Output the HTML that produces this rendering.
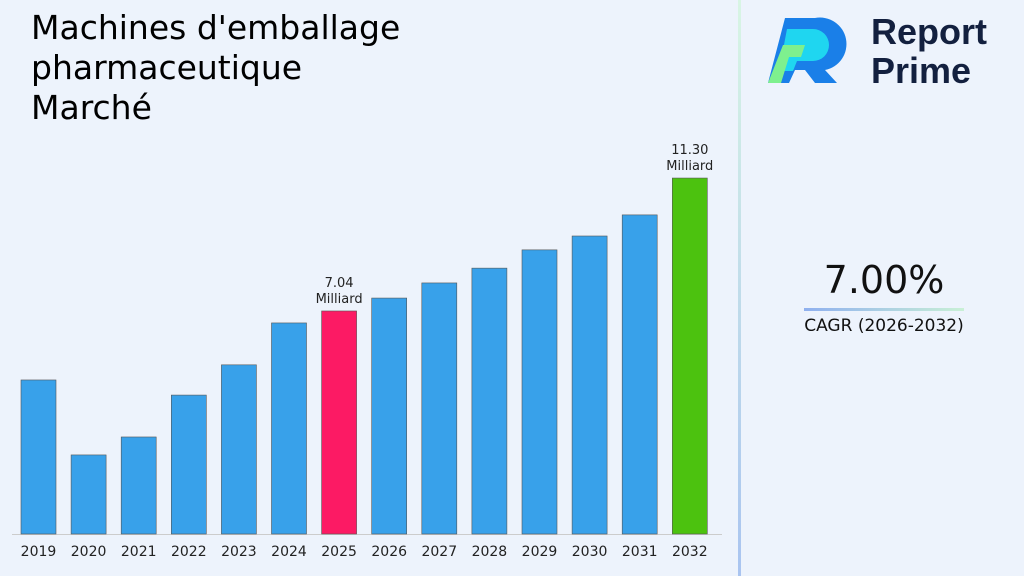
<!DOCTYPE html>
<html><head><meta charset="utf-8"><style>
body{margin:0;width:1024px;height:576px;background:#edf3fc;font-family:"Liberation Sans","DejaVu Sans",sans-serif;overflow:hidden;position:relative}
</style></head><body>
<div style="position:absolute;left:31px;top:8px;font-size:33px;line-height:40px;color:#000;font-family:'DejaVu Sans',sans-serif">Machines d'emballage<br>pharmaceutique<br>Marché</div>
<div style="position:absolute;left:738px;top:0;width:3px;height:576px;background:linear-gradient(#d8f5e4,#a9c4f0)"></div>
<svg style="position:absolute;left:765px;top:15px" width="90" height="70" viewBox="0 0 90 70">
<path d="M20 3 H50 A26 26 0 0 1 60 55 L72 68 H50 L40 55 H30 L24 68 H3 Z" fill="#1a7fe8"/>
<path d="M22 14 H48 A16 16 0 0 1 48 46 H32 L28 56 H14 Z" fill="#1fd6f0"/>
<path d="M18 30 H40 L36 42 H24 L16 68 H3 Z" fill="#7ef08e"/>
</svg>
<div style="position:absolute;left:871px;top:12px;font-size:36px;font-weight:bold;line-height:39px;color:#13203f">Report<br>Prime</div>
<div style="position:absolute;left:784px;top:258px;width:200px;text-align:center;font-size:38px;color:#111;font-family:'DejaVu Sans',sans-serif">7.00%</div>
<div style="position:absolute;left:804px;top:308px;width:160px;height:3px;background:linear-gradient(90deg,#8fb0ef,#c9f0d6)"></div>
<div style="position:absolute;left:784px;top:316px;width:200px;text-align:center;font-size:17px;color:#111;font-family:'DejaVu Sans',sans-serif">CAGR (2026-2032)</div>
<svg id="chart" style="position:absolute;left:0;top:0" width="738" height="576"></svg>
<script>
const years=["2019","2020","2021","2022","2023","2024","2025","2026","2027","2028","2029","2030","2031","2032"];
const values=[4.89,2.51,3.08,4.41,5.37,6.70,7.08,7.49,7.97,8.44,9.02,9.46,10.13,11.30];
const labels={"2025":"7.04","2032":"11.30"};
const svg=document.getElementById('chart');const NS="http://www.w3.org/2000/svg";
const base=534,scale=31.5,x0=38.5,step=50.1,bw=35;
const xs=i=>x0+i*step, ys=v=>base-v*scale;
function mk(t,a){const e=document.createElementNS(NS,t);for(const k in a)e.setAttribute(k,a[k]);svg.appendChild(e);return e;}
const ax=mk('line',{x1:12,x2:722,y1:base+0.5,y2:base+0.5,stroke:'#ccc'});


years.forEach((y,i)=>{
 const col=y==="2025"?"#fc1a64":y==="2032"?"#4cc20f":"#38a1ea";
 const r=mk('rect',{x:xs(i)-bw/2,y:ys(values[i]),width:bw,height:values[i]*scale,fill:col,stroke:'#555','stroke-width':0.6});
 
 
 const t=mk('text',{x:xs(i),y:556,'text-anchor':'middle','font-size':14,fill:'#222','font-family':'DejaVu Sans,sans-serif'});t.textContent=y;
 
 
 if(labels[y]){
  const l1=mk('text',{x:xs(i),y:ys(values[i])-24,'text-anchor':'middle','font-size':13,fill:'#222','font-family':'DejaVu Sans,sans-serif'});l1.textContent=labels[y];
  
  
  const l2=mk('text',{x:xs(i),y:ys(values[i])-8,'text-anchor':'middle','font-size':13,fill:'#222','font-family':'DejaVu Sans,sans-serif'});l2.textContent="Milliard";
  
  
 }
});
</script>
</body></html>
